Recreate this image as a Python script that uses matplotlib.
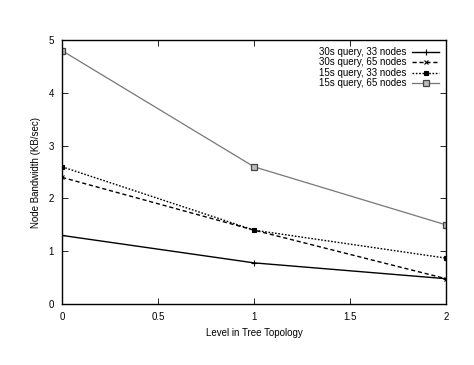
import matplotlib
matplotlib.use("Agg")
import matplotlib.pyplot as plt

levels = [0, 1, 2]
q30_n33 = [1.3, 0.78, 0.48]
q30_n65 = [2.4, 1.4, 0.48]
q15_n33 = [2.6, 1.4, 0.87]
q15_n65 = [4.8, 2.6, 1.5]

plt.rcParams['font.family'] = ['Liberation Sans', 'DejaVu Sans']
plt.rcParams['font.size'] = 7

fig = plt.figure(figsize=(4.74, 3.65), dpi=100)
ax = fig.add_axes([0.131, 0.167, 0.810, 0.723])

ax.plot(levels, q30_n33, color='black', lw=1.0, marker='+', ms=4, mew=0.8,
        label='30s query, 33 nodes')
ax.plot(levels, q30_n65, color='black', lw=1.0, ls=(0, (3, 2)), marker='x', ms=3.5, mew=0.8,
        label='30s query, 65 nodes')
ax.plot(levels, q15_n33, color='black', lw=1.0, ls=(0, (1.2, 1.2)), marker='s', ms=3, mew=0.8,
        label='15s query, 33 nodes')
ax.plot(levels, q15_n65, color='#777777', lw=0.9, marker='s', ms=4, mew=0.9,
        mfc='#bbbbbb', mec='#444444', label='15s query, 65 nodes')

ax.set_xlim(0, 2)
ax.set_ylim(0, 5)
ax.set_xticks([0, 0.5, 1, 1.5, 2])
ax.set_xticklabels(['0', '0.5', '1', '1.5', '2'])
ax.set_yticks([0, 1, 2, 3, 4, 5])
ax.tick_params(direction='in', top=True, right=True, length=4, width=0.6, pad=6)
for s in ax.spines.values():
    s.set_linewidth(1.0)

ax.set_xlabel('Level in Tree Topology', labelpad=4)
ax.set_ylabel('Node Bandwidth (KB/sec)', labelpad=5)

leg = ax.legend(loc='upper right', frameon=False, markerfirst=False,
                handlelength=2.8, labelspacing=0.05, borderaxespad=0.3,
                handletextpad=0.6)

fig.savefig('out.png', dpi=100)
